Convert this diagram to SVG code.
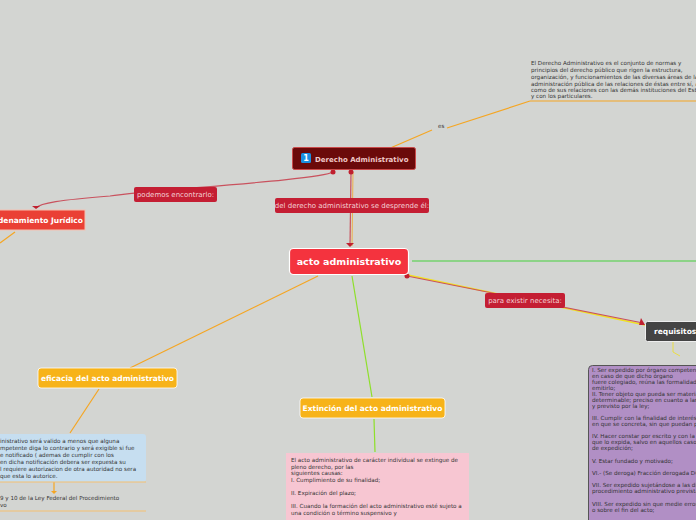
<svg xmlns="http://www.w3.org/2000/svg" width="696" height="520" viewBox="0 0 696 520">
<style>
text{font-family:"DejaVu Sans",sans-serif}
.t{font-size:5.6px;fill:#333}
.lab{font-size:7px;fill:#f3d0d5}
.nb{font-size:7.5px;font-weight:bold;fill:#fff}
.c{fill:none;stroke-width:1.2}
</style>
<rect width="696" height="520" fill="#d3d5d2"/>
<g id="connectors">
<line x1="388" y1="149" x2="432" y2="130" stroke="#f5a623" class="c"/>
<line x1="447" y1="128" x2="530" y2="101" stroke="#f5a623" class="c"/>
<line x1="530" y1="101" x2="696" y2="101" stroke="#f5a623" class="c"/>
<path d="M333 172 C320 180 150 190 110 196 C60 200 40 203 36 208" stroke="#c9525e" class="c"/>
<path d="M32 206 l4 3 l4 -3 z" fill="#c0202f"/>
<circle cx="333" cy="172" r="2.5" fill="#c0202f"/>
<line x1="351" y1="172" x2="350" y2="246" stroke="#c9525e" class="c"/>
<line x1="353" y1="172" x2="352" y2="246" stroke="#f5a623" stroke-width="0.8"/>
<circle cx="351" cy="172" r="2.5" fill="#c0202f"/>
<path d="M346 243 l4 4 l4 -4 z" fill="#c0202f"/>
<line x1="15" y1="232" x2="0" y2="243" stroke="#f5a623" class="c"/>
<line x1="412" y1="261" x2="696" y2="261" stroke="#47d23c" class="c"/>
<line x1="408" y1="275" x2="645" y2="325" stroke="#f0e020" stroke-width="1.5" fill="none"/>
<line x1="407" y1="276" x2="643" y2="323" stroke="#c9525e" class="c"/>
<circle cx="407" cy="276" r="2.5" fill="#c0202f"/>
<path d="M641 318 l4 7 l-6 0 z" fill="#c0202f"/>
<line x1="318" y1="276" x2="130" y2="368" stroke="#f5a623" class="c"/>
<line x1="352" y1="276" x2="372" y2="397" stroke="#8ee02a" class="c"/>
<line x1="99" y1="389" x2="70" y2="433" stroke="#f5a623" class="c"/>
<line x1="374" y1="419" x2="375" y2="452" stroke="#8ee02a" class="c"/>
<line x1="54" y1="482" x2="54" y2="492" stroke="#f5a623" class="c"/>
<path d="M51 491 l3 3 l3 -3 z" fill="#f5a623"/>
<path d="M673 342 L673 352 L680 356" stroke="#f0e020" fill="none" stroke-width="0.8"/>
</g>
<g id="n-def">
<text class="t" x="531" y="65">El Derecho Administrativo es el conjunto de normas y</text>
<text class="t" x="531" y="72">principios del derecho público que rigen la estructura,</text>
<text class="t" x="531" y="79">organización, y funcionamientos de las diversas áreas de la</text>
<text class="t" x="531" y="86">administración pública de las relaciones de éstas entre sí, a</text>
<text class="t" x="531" y="92">como de sus relaciones con las demás instituciones del Esta</text>
<text class="t" x="531" y="98">y con los particulares.</text>
</g>
<g id="n-es"><text class="t" x="438" y="128" font-size="5px">es</text></g>
<g id="n-derecho">
<rect x="292.500" y="147.500" width="123" height="22" rx="2" fill="#6b0a0a" stroke="#c94a4a"/>
<rect x="301" y="153" width="10" height="10" rx="1.5" fill="#1a8fe0"/>
<text x="306" y="161" font-size="8px" fill="#fff" text-anchor="middle" font-weight="bold">1</text>
<text x="315" y="162" font-size="7px" font-weight="bold" fill="#f0c8c8">Derecho Administrativo</text>
</g>
<g id="l-podemos">
<rect x="134" y="187" width="83" height="15" rx="2" fill="#c41e33"/>
<text class="lab" x="175.500" y="197" text-anchor="middle">podemos encontrarlo:</text>
</g>
<g id="l-desprende">
<rect x="275" y="198" width="154" height="15" rx="2" fill="#c41e33"/>
<text class="lab" x="352" y="208" text-anchor="middle">del derecho administrativo se desprende él:</text>
</g>
<g id="n-ordenamiento">
<rect x="-10" y="210" width="95" height="20" fill="#ea4035" stroke="#f5c0b0"/>
<text class="nb" x="-2" y="223">denamiento Jurídico</text>
</g>
<g id="n-acto">
<rect x="289.500" y="248.500" width="119" height="26" rx="4" fill="#f4333e" stroke="#fff" stroke-width="1.2"/>
<text x="349" y="265" font-size="9.500px" font-weight="bold" fill="#fff" text-anchor="middle">acto administrativo</text>
</g>
<g id="l-para">
<rect x="485" y="293" width="80" height="15" rx="2" fill="#c41e33"/>
<text class="lab" x="525" y="303" text-anchor="middle">para existir necesita:</text>
</g>
<g id="n-requisitos">
<rect x="645.500" y="321.500" width="60" height="20" rx="2" fill="#444" stroke="#eee"/>
<text class="nb" x="654" y="334">requisitos</text>
</g>
<g id="n-eficacia">
<rect x="38" y="368" width="139" height="20" rx="3" fill="#f7b319" stroke="#fff" stroke-width="0.8"/>
<text class="nb" x="107.500" y="381" text-anchor="middle">eficacia del acto administrativo</text>
</g>
<g id="n-extincion">
<rect x="300" y="398" width="145" height="20" rx="3" fill="#f7b319" stroke="#fff" stroke-width="0.8"/>
<text class="nb" x="372.500" y="411" text-anchor="middle">Extinción del acto administrativo</text>
</g>
<g id="n-eficacia-text">
<rect x="-5" y="434" width="151" height="48" rx="3" fill="#c6def0"/>
<line x1="-5" y1="482" x2="146" y2="482" stroke="#f5c070"/>
<text class="t" x="0" y="443">inistrativo será valido a menos que alguna</text>
<text class="t" x="0" y="450">mpetente diga lo contrario y será exigible si fue</text>
<text class="t" x="0" y="457">e notificado ( ademas de cumplir con los</text>
<text class="t" x="0" y="464">en dicha notificación debera ser expuesta su</text>
<text class="t" x="0" y="471">l requiere autorizacion de otra autoridad no sera</text>
<text class="t" x="0" y="478">que esta lo autorice.</text>
</g>
<g id="n-ley">
<text class="t" x="0" y="500">9 y 10 de la Ley Federal del Procedimiento</text>
<text class="t" x="0" y="507">vo</text>
<line x1="0" y1="511" x2="146" y2="511" stroke="#f5c070"/>
</g>
<g id="n-extincion-text">
<rect x="286" y="453" width="183" height="70" fill="#f7c6d2"/>
<text class="t" x="291" y="462">El acto administrativo de carácter individual se extingue de</text>
<text class="t" x="291" y="469">pleno derecho, por las</text>
<text class="t" x="291" y="475">siguientes causas:</text>
<text class="t" x="291" y="482">I. Cumplimiento de su finalidad;</text>
<text class="t" x="291" y="495">II. Expiración del plazo;</text>
<text class="t" x="291" y="508">III. Cuando la formación del acto administrativo esté sujeto a</text>
<text class="t" x="291" y="515">una condición o término suspensivo y</text>
</g>
<g id="n-requisitos-text">
<rect x="588.500" y="365.500" width="120" height="170" rx="4" fill="#b18fc5" stroke="#555"/>
<text class="t" x="592" y="372">I. Ser expedido por órgano competente, a t</text>
<text class="t" x="592" y="378">en caso de que dicho órgano</text>
<text class="t" x="592" y="384">fuere colegiado, reúna las formalidades de</text>
<text class="t" x="592" y="390">emitirlo;</text>
<text class="t" x="592" y="396">II. Tener objeto que pueda ser materia del a</text>
<text class="t" x="592" y="402">determinable; preciso en cuanto a las circu</text>
<text class="t" x="592" y="408">y previsto por la ley;</text>
<text class="t" x="592" y="420">III. Cumplir con la finalidad de interés públi</text>
<text class="t" x="592" y="426">en que se concreta, sin que puedan perseg</text>
<text class="t" x="592" y="438">IV. Hacer constar por escrito y con la firma</text>
<text class="t" x="592" y="444">que lo expida, salvo en aquellos casos en</text>
<text class="t" x="592" y="450">de expedición;</text>
<text class="t" x="592" y="463">V. Estar fundado y motivado;</text>
<text class="t" x="592" y="475">VI.- (Se deroga) Fracción derogada DOF 2</text>
<text class="t" x="592" y="487">VII. Ser expedido sujetándose a las dispos</text>
<text class="t" x="592" y="493">procedimiento administrativo previstas en</text>
<text class="t" x="592" y="506">VIII. Ser expedido sin que medie error sob</text>
<text class="t" x="592" y="512">o sobre el fin del acto;</text>
</g>
</svg>
